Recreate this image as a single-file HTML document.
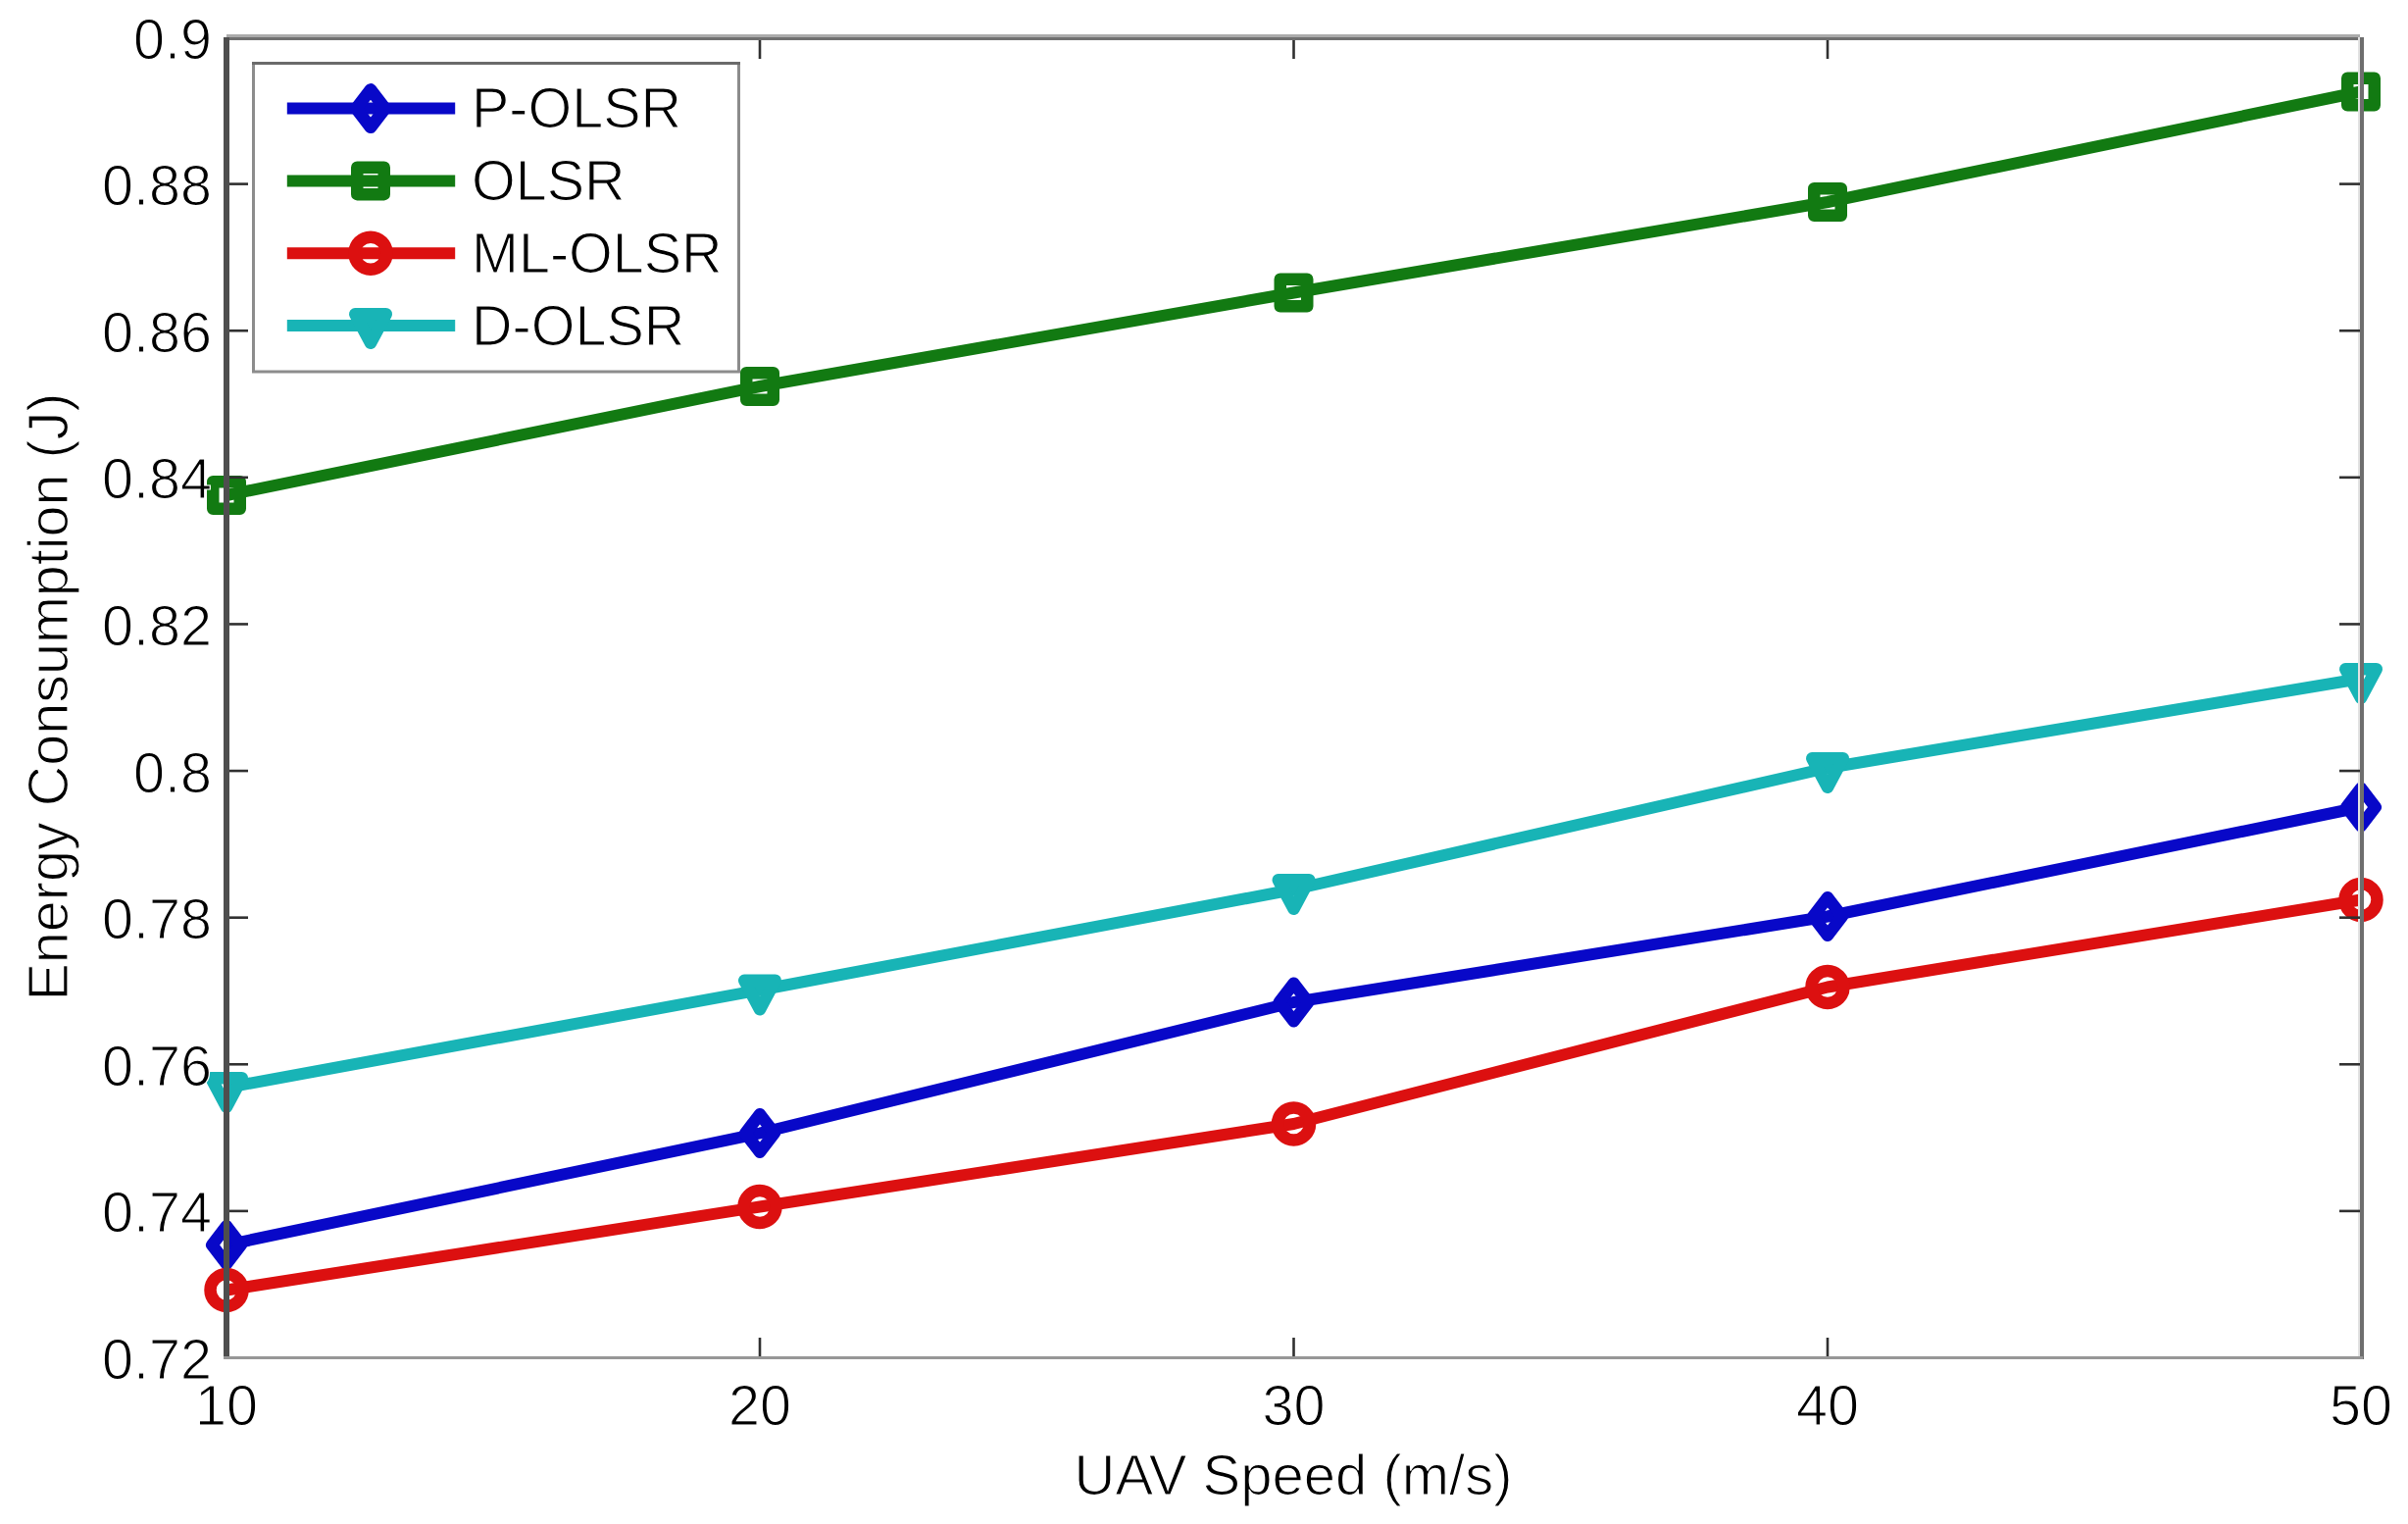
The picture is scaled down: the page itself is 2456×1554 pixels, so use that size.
<!DOCTYPE html>
<html lang="en">
<head>
<meta charset="utf-8">
<title>Energy Consumption vs UAV Speed</title>
<style>
html, body { margin: 0; padding: 0; background: #ffffff; }
body { width: 2456px; height: 1554px; overflow: hidden; }
svg { display: block; }
</style>
</head>
<body>
<svg width="2456" height="1554" viewBox="0 0 2456 1554">
<rect x="0" y="0" width="2456" height="1554" fill="#ffffff"/>
<polyline points="231.00,1269.50 775.00,1155.50 1319.50,1022.00 1864.00,934.50 2408.00,823.00" fill="none" stroke="#0808c8" stroke-width="12.0" stroke-linejoin="round" stroke-linecap="butt"/>
<polygon points="231.00,1250.25 245.75,1269.50 231.00,1288.75 216.25,1269.50" fill="none" stroke="#0808c8" stroke-width="12.5" stroke-linejoin="round"/>
<polygon points="775.00,1136.25 789.75,1155.50 775.00,1174.75 760.25,1155.50" fill="none" stroke="#0808c8" stroke-width="12.5" stroke-linejoin="round"/>
<polygon points="1319.50,1002.75 1334.25,1022.00 1319.50,1041.25 1304.75,1022.00" fill="none" stroke="#0808c8" stroke-width="12.5" stroke-linejoin="round"/>
<polygon points="1864.00,915.25 1878.75,934.50 1864.00,953.75 1849.25,934.50" fill="none" stroke="#0808c8" stroke-width="12.5" stroke-linejoin="round"/>
<polygon points="2408.00,803.75 2422.75,823.00 2408.00,842.25 2393.25,823.00" fill="none" stroke="#0808c8" stroke-width="12.5" stroke-linejoin="round"/>
<polyline points="231.00,505.00 775.00,394.00 1319.50,298.50 1864.00,206.00 2408.00,93.50" fill="none" stroke="#127a12" stroke-width="12.0" stroke-linejoin="round" stroke-linecap="butt"/>
<rect x="217.25" y="491.25" width="27.50" height="27.50" fill="none" stroke="#127a12" stroke-width="12.5" stroke-linejoin="round"/>
<rect x="761.25" y="380.25" width="27.50" height="27.50" fill="none" stroke="#127a12" stroke-width="12.5" stroke-linejoin="round"/>
<rect x="1305.75" y="284.75" width="27.50" height="27.50" fill="none" stroke="#127a12" stroke-width="12.5" stroke-linejoin="round"/>
<rect x="1850.25" y="192.25" width="27.50" height="27.50" fill="none" stroke="#127a12" stroke-width="12.5" stroke-linejoin="round"/>
<rect x="2394.25" y="79.75" width="27.50" height="27.50" fill="none" stroke="#127a12" stroke-width="12.5" stroke-linejoin="round"/>
<polyline points="231.00,1315.50 775.00,1230.50 1319.50,1146.00 1864.00,1006.50 2408.00,917.50" fill="none" stroke="#dc1010" stroke-width="12.0" stroke-linejoin="round" stroke-linecap="butt"/>
<circle cx="231.00" cy="1315.50" r="16.5" fill="none" stroke="#dc1010" stroke-width="12.5"/>
<circle cx="775.00" cy="1230.50" r="16.5" fill="none" stroke="#dc1010" stroke-width="12.5"/>
<circle cx="1319.50" cy="1146.00" r="16.5" fill="none" stroke="#dc1010" stroke-width="12.5"/>
<circle cx="1864.00" cy="1006.50" r="16.5" fill="none" stroke="#dc1010" stroke-width="12.5"/>
<circle cx="2408.00" cy="917.50" r="16.5" fill="none" stroke="#dc1010" stroke-width="12.5"/>
<polyline points="231.00,1109.00 775.00,1009.50 1319.50,907.00 1864.00,783.00 2408.00,692.00" fill="none" stroke="#18b4b6" stroke-width="12.0" stroke-linejoin="round" stroke-linecap="butt"/>
<polygon points="215.25,1099.25 246.75,1099.25 231.00,1128.75" fill="none" stroke="#18b4b6" stroke-width="12.5" stroke-linejoin="round"/>
<polygon points="759.25,999.75 790.75,999.75 775.00,1029.25" fill="none" stroke="#18b4b6" stroke-width="12.5" stroke-linejoin="round"/>
<polygon points="1303.75,897.25 1335.25,897.25 1319.50,926.75" fill="none" stroke="#18b4b6" stroke-width="12.5" stroke-linejoin="round"/>
<polygon points="1848.25,773.25 1879.75,773.25 1864.00,802.75" fill="none" stroke="#18b4b6" stroke-width="12.5" stroke-linejoin="round"/>
<polygon points="2392.25,682.25 2423.75,682.25 2408.00,711.75" fill="none" stroke="#18b4b6" stroke-width="12.5" stroke-linejoin="round"/>
<g shape-rendering="crispEdges">
<rect x="231" y="34.5" width="2176" height="3.5" fill="#ababab"/>
<rect x="228" y="38" width="2182" height="3" fill="#707070"/>
<rect x="228" y="38" width="6" height="1348" fill="#4e4e4e"/>
<rect x="2404.5" y="38" width="2.5" height="1348" fill="#e2e2e2"/>
<rect x="2407" y="38" width="3.5" height="1348" fill="#6e6e6e"/>
<rect x="228" y="1383" width="2182" height="3" fill="#979797"/>
</g>
<g stroke="#303030" stroke-width="2.6" fill="none">
<line x1="775.00" y1="1383" x2="775.00" y2="1364"/>
<line x1="775.00" y1="41" x2="775.00" y2="60"/>
<line x1="1319.50" y1="1383" x2="1319.50" y2="1364"/>
<line x1="1319.50" y1="41" x2="1319.50" y2="60"/>
<line x1="1864.00" y1="1383" x2="1864.00" y2="1364"/>
<line x1="1864.00" y1="41" x2="1864.00" y2="60"/>
<line x1="234" y1="1234.89" x2="253" y2="1234.89"/>
<line x1="2407" y1="1234.89" x2="2386" y2="1234.89"/>
<line x1="234" y1="1085.28" x2="253" y2="1085.28"/>
<line x1="2407" y1="1085.28" x2="2386" y2="1085.28"/>
<line x1="234" y1="935.67" x2="253" y2="935.67"/>
<line x1="2407" y1="935.67" x2="2386" y2="935.67"/>
<line x1="234" y1="786.06" x2="253" y2="786.06"/>
<line x1="2407" y1="786.06" x2="2386" y2="786.06"/>
<line x1="234" y1="636.44" x2="253" y2="636.44"/>
<line x1="2407" y1="636.44" x2="2386" y2="636.44"/>
<line x1="234" y1="486.83" x2="253" y2="486.83"/>
<line x1="2407" y1="486.83" x2="2386" y2="486.83"/>
<line x1="234" y1="337.22" x2="253" y2="337.22"/>
<line x1="2407" y1="337.22" x2="2386" y2="337.22"/>
<line x1="234" y1="187.61" x2="253" y2="187.61"/>
<line x1="2407" y1="187.61" x2="2386" y2="187.61"/>
</g>
<g font-family="'Liberation Sans', Arial, Helvetica, sans-serif" font-size="57.5" fill="#000000" stroke="#ffffff" stroke-width="1.2">
<text x="216" y="1406.00" text-anchor="end">0.72</text>
<text x="216" y="1256.39" text-anchor="end">0.74</text>
<text x="216" y="1106.78" text-anchor="end">0.76</text>
<text x="216" y="957.17" text-anchor="end">0.78</text>
<text x="216" y="807.56" text-anchor="end">0.8</text>
<text x="216" y="657.94" text-anchor="end">0.82</text>
<text x="216" y="508.33" text-anchor="end">0.84</text>
<text x="216" y="358.72" text-anchor="end">0.86</text>
<text x="216" y="209.11" text-anchor="end">0.88</text>
<text x="216" y="59.50" text-anchor="end">0.9</text>
<text x="231.00" y="1453" text-anchor="middle">10</text>
<text x="775.00" y="1453" text-anchor="middle">20</text>
<text x="1319.50" y="1453" text-anchor="middle">30</text>
<text x="1864.00" y="1453" text-anchor="middle">40</text>
<text x="2408.00" y="1453" text-anchor="middle">50</text>
<text x="1319" y="1523.5" text-anchor="middle" font-size="58">UAV Speed (m/s)</text>
<text transform="translate(68.8 710.5) rotate(-90)" text-anchor="middle">Energy Consumption (J)</text>
</g>
<rect x="258.5" y="64.5" width="495" height="314.5" fill="#ffffff" stroke="#8c8c8c" stroke-width="3"/>
<rect x="257" y="63" width="498" height="3" fill="#6a6a6a"/>
<line x1="292.8" y1="110.60" x2="464.2" y2="110.60" stroke="#0808c8" stroke-width="12"/>
<polygon points="378.00,91.35 392.75,110.60 378.00,129.85 363.25,110.60" fill="none" stroke="#0808c8" stroke-width="12.5" stroke-linejoin="round"/>
<text x="481" y="130.10" font-family="'Liberation Sans', Arial, Helvetica, sans-serif" font-size="57.5" fill="#000000" stroke="#ffffff" stroke-width="1.2">P-OLSR</text>
<line x1="292.8" y1="184.40" x2="464.2" y2="184.40" stroke="#127a12" stroke-width="12"/>
<rect x="364.25" y="170.65" width="27.50" height="27.50" fill="none" stroke="#127a12" stroke-width="12.5" stroke-linejoin="round"/>
<text x="481" y="203.90" font-family="'Liberation Sans', Arial, Helvetica, sans-serif" font-size="57.5" fill="#000000" stroke="#ffffff" stroke-width="1.2">OLSR</text>
<line x1="292.8" y1="258.20" x2="464.2" y2="258.20" stroke="#dc1010" stroke-width="12"/>
<circle cx="378.00" cy="258.20" r="16.5" fill="none" stroke="#dc1010" stroke-width="12.5"/>
<text x="481" y="277.70" font-family="'Liberation Sans', Arial, Helvetica, sans-serif" font-size="57.5" fill="#000000" stroke="#ffffff" stroke-width="1.2">ML-OLSR</text>
<line x1="292.8" y1="332.00" x2="464.2" y2="332.00" stroke="#18b4b6" stroke-width="12"/>
<polygon points="362.25,320.25 393.75,320.25 378.00,349.75" fill="none" stroke="#18b4b6" stroke-width="12.5" stroke-linejoin="round"/>
<text x="481" y="351.50" font-family="'Liberation Sans', Arial, Helvetica, sans-serif" font-size="57.5" fill="#000000" stroke="#ffffff" stroke-width="1.2">D-OLSR</text>
</svg>
</body>
</html>
